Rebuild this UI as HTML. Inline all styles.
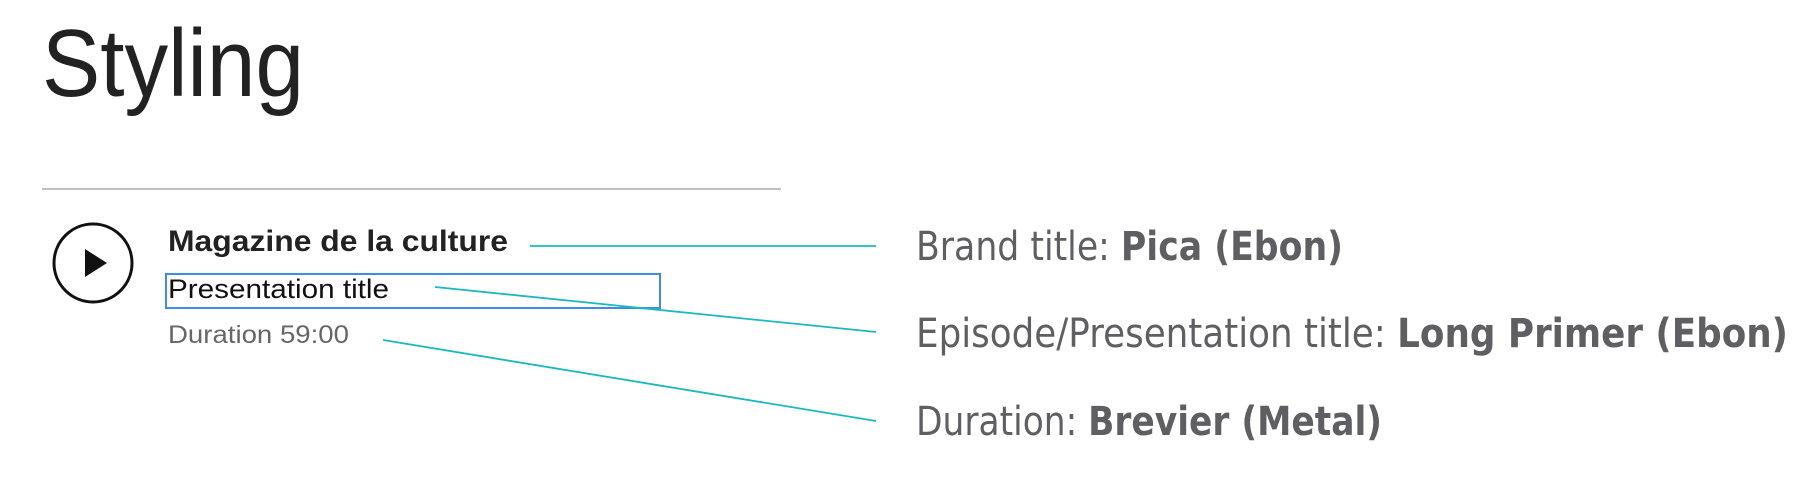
<!DOCTYPE html>
<html><head><meta charset="utf-8"><style>
html,body{margin:0;padding:0;background:#fff;width:1818px;height:494px;overflow:hidden}
svg{display:block}
</style></head><body>
<svg width="1818" height="494" viewBox="0 0 1818 494" xmlns="http://www.w3.org/2000/svg">
<text x="42" y="96" font-family="Liberation Sans, sans-serif" font-size="96" fill="#222" textLength="262" lengthAdjust="spacingAndGlyphs">Styling</text>
<line x1="42" y1="189" x2="781" y2="189" stroke="#aaa" stroke-width="1.5"/>
<circle cx="93" cy="263" r="39" fill="none" stroke="#111" stroke-width="3"/>
<polygon points="85,249 85,277 107,263" fill="#111"/>
<text x="168" y="251" font-family="Liberation Sans, sans-serif" font-weight="bold" font-size="30" fill="#222" textLength="340" lengthAdjust="spacingAndGlyphs">Magazine de la culture</text>
<rect x="166" y="274" width="494" height="34" fill="none" stroke="#3d8ce8" stroke-width="2"/>
<text x="168" y="298" font-family="Liberation Sans, sans-serif" font-size="27" fill="#111" textLength="221" lengthAdjust="spacingAndGlyphs">Presentation title</text>
<text x="168" y="343" font-family="Liberation Sans, sans-serif" font-size="25" fill="#666" textLength="181" lengthAdjust="spacingAndGlyphs">Duration 59:00</text>
<g stroke="#1bb8c0" stroke-width="1.8" fill="none">
<line x1="530" y1="246" x2="876" y2="246"/>
<line x1="435" y1="287" x2="876" y2="332"/>
<line x1="383" y1="340" x2="876" y2="421"/>
</g>
<g font-family="DejaVu Sans, Liberation Sans, sans-serif" font-size="40" fill="#5f5f63">
<text x="916" y="260" textLength="427" lengthAdjust="spacingAndGlyphs">Brand title: <tspan font-weight="bold">Pica (Ebon)</tspan></text>
<text x="916" y="347" textLength="872" lengthAdjust="spacingAndGlyphs">Episode/Presentation title: <tspan font-weight="bold">Long Primer (Ebon)</tspan></text>
<text x="916" y="435" textLength="466" lengthAdjust="spacingAndGlyphs">Duration: <tspan font-weight="bold">Brevier (Metal)</tspan></text>
</g>
</svg>
</body></html>
